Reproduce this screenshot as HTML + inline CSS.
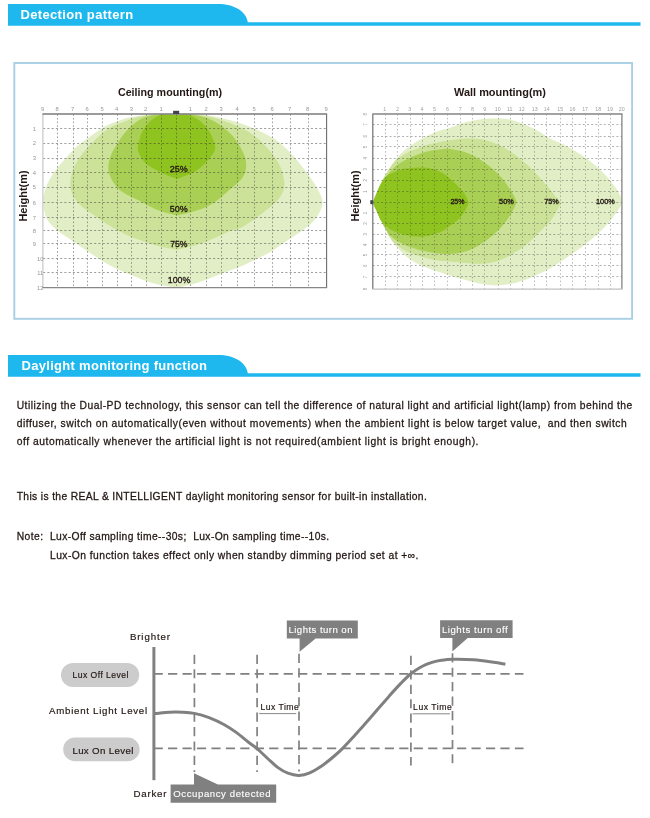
<!DOCTYPE html>
<html lang="en"><head><meta charset="utf-8"><title>Detection pattern</title>
<style>
html,body{margin:0;padding:0;background:#fff}
body{width:650px;height:818px;position:relative;overflow:hidden;font-family:"Liberation Sans",sans-serif;color:#231815}
.hd{position:absolute;left:8.4px;width:633px;height:22px}
.hd svg{position:absolute;left:0;top:0}
.hd h2{position:absolute;margin:0;left:12.6px;top:0;font-size:13px;line-height:22px;font-weight:bold;color:#fff;white-space:nowrap}
.p{position:absolute;left:16.6px;margin:0;font-size:10.3px;line-height:14px;white-space:nowrap;color:#231815;-webkit-text-stroke:0.27px #231815}
</style></head><body>
<svg width="650" height="818" viewBox="0 0 650 818" style="position:absolute;left:0;top:0">
<defs><clipPath id="cl"><rect x="43.1" y="114.2" width="283.5" height="173.8"/></clipPath><clipPath id="cr"><rect x="372.8" y="114.2" width="249.7" height="174.8"/></clipPath></defs>
<rect x="14.3" y="63" width="617.8" height="255.8" fill="#fff" stroke="#A9CFE4" stroke-width="1.9"/>
<g clip-path="url(#cl)">
<path d="M176.5 114.7C172.1 114.7 157.6 114.4 150.0 114.8C142.4 115.2 136.2 116.2 130.8 117.2C125.4 118.2 121.9 119.4 117.5 121.0C113.1 122.6 109.3 124.0 104.5 126.8C99.7 129.6 93.2 134.3 88.5 137.7C83.8 141.0 80.0 143.4 76.2 146.9C72.4 150.4 68.7 154.8 65.4 158.5C62.1 162.2 59.0 165.4 56.2 169.2C53.4 173.0 50.4 177.7 48.5 181.5C46.6 185.3 45.5 188.9 44.6 192.3C43.7 195.7 43.2 198.7 43.2 202.0C43.2 205.3 43.7 209.1 44.6 212.3C45.5 215.6 46.3 218.4 48.5 221.5C50.7 224.6 54.1 227.9 57.7 230.8C61.3 233.8 65.9 236.4 70.0 239.2C74.1 242.0 78.2 244.9 82.3 247.7C86.4 250.5 90.5 253.3 94.6 256.0C98.7 258.7 102.9 261.5 107.0 263.8C111.1 266.1 115.4 268.2 119.2 270.0C123.0 271.8 126.5 273.2 130.0 274.6C133.5 276.1 135.8 277.2 140.0 278.7C144.2 280.2 150.7 282.6 155.0 283.8C159.3 285.0 162.3 285.4 166.0 286.0C169.7 286.6 175.1 287.3 176.9 287.6C178.6 287.3 183.5 286.4 187.0 285.6C190.5 284.8 193.9 283.9 197.7 282.7C201.5 281.5 205.9 279.7 210.0 278.2C214.1 276.7 219.0 274.8 222.3 273.5C225.6 272.2 226.9 271.7 230.0 270.5C233.1 269.3 236.7 268.2 240.8 266.5C244.9 264.8 249.7 262.4 254.6 260.0C259.5 257.6 265.1 255.1 270.0 252.3C274.9 249.5 279.2 246.1 283.8 243.0C288.4 239.9 293.3 236.9 297.7 233.8C302.1 230.7 306.7 227.7 310.0 224.6C313.3 221.5 315.8 218.2 317.7 215.4C319.6 212.6 320.7 210.3 321.5 207.7C322.3 205.1 322.9 203.1 322.3 200.0C321.7 196.9 319.8 193.0 317.7 189.2C315.6 185.4 313.1 181.4 310.0 177.0C306.9 172.6 302.8 167.4 299.2 163.0C295.6 158.6 292.4 154.6 288.5 150.8C284.6 147.0 280.6 143.2 276.0 140.0C271.4 136.8 264.3 133.3 260.8 131.5C257.3 129.7 258.0 130.2 255.0 129.0C252.0 127.8 246.8 125.5 242.7 124.0C238.6 122.5 234.5 121.4 230.4 120.3C226.3 119.2 223.1 118.1 218.0 117.2C212.9 116.3 206.9 115.2 200.0 114.8C193.1 114.4 180.4 114.7 176.5 114.7Z" fill="#E2EFC6"/>
<path d="M176.5 114.7C172.9 114.7 161.6 114.4 155.0 114.8C148.4 115.2 142.1 116.1 137.0 117.2C131.9 118.3 128.7 120.0 124.6 121.5C120.5 123.0 116.1 124.5 112.3 126.5C108.5 128.5 105.5 130.7 102.0 133.5C98.5 136.3 94.8 140.1 91.5 143.5C88.2 146.9 84.8 150.6 82.3 153.8C79.8 157.1 77.9 159.9 76.2 163.0C74.5 166.1 73.3 169.0 72.3 172.3C71.3 175.6 70.4 179.7 70.3 183.0C70.2 186.3 70.7 189.6 71.5 192.3C72.3 195.0 73.5 196.8 75.0 199.0C76.5 201.2 78.0 203.1 80.8 205.5C83.5 207.9 87.7 210.8 91.5 213.5C95.3 216.2 99.7 219.3 103.8 222.0C107.9 224.7 111.6 227.1 116.0 229.5C120.4 231.9 126.0 234.8 130.0 236.5C134.0 238.2 135.4 238.4 140.0 240.0C144.6 241.6 152.8 244.5 157.3 245.8C161.8 247.1 163.7 247.3 167.0 248.0C170.3 248.7 175.2 249.5 176.9 249.8C178.6 249.4 183.5 248.5 187.0 247.6C190.5 246.7 193.9 245.9 197.7 244.6C201.5 243.3 205.9 241.7 210.0 240.0C214.1 238.3 219.0 236.1 222.3 234.6C225.6 233.1 226.9 232.2 230.0 231.0C233.1 229.8 237.0 229.5 240.8 227.7C244.6 225.9 248.9 222.8 253.0 220.0C257.1 217.2 261.2 214.1 265.4 210.8C269.6 207.5 274.9 203.6 278.0 200.0C281.1 196.4 282.8 192.5 283.8 189.2C284.8 185.9 284.5 183.6 284.0 180.0C283.5 176.4 282.4 171.5 280.8 167.7C279.2 163.9 276.9 160.3 274.6 157.0C272.3 153.7 269.8 150.8 267.0 147.7C264.2 144.6 260.7 141.1 257.7 138.5C254.7 135.9 252.3 134.1 248.8 132.0C245.3 129.9 240.6 127.6 236.5 125.8C232.4 124.0 228.3 122.4 224.2 121.0C220.1 119.6 216.7 118.2 212.0 117.2C207.3 116.2 201.9 115.2 196.0 114.8C190.1 114.4 179.8 114.7 176.5 114.7Z" fill="#CBE298"/>
<path d="M176.5 114.7C173.8 114.7 164.9 114.5 160.0 114.8C155.1 115.1 150.6 115.5 146.8 116.6C143.0 117.7 140.1 119.4 137.0 121.5C133.9 123.6 130.8 126.5 128.3 129.0C125.8 131.5 124.0 133.9 122.2 136.3C120.4 138.8 119.3 140.8 117.5 143.7C115.7 146.6 113.0 150.3 111.5 153.8C110.0 157.3 108.9 161.3 108.5 164.6C108.1 167.9 108.3 170.7 109.2 173.8C110.1 176.9 111.9 180.2 113.8 183.0C115.7 185.8 118.1 188.6 120.8 190.8C123.5 193.0 127.0 194.6 130.0 196.2C133.0 197.8 134.8 198.4 139.0 200.5C143.2 202.6 150.3 206.9 155.0 209.0C159.7 211.1 163.2 211.9 166.9 213.0C170.6 214.1 175.2 215.1 176.9 215.5C179.2 214.9 186.1 213.5 190.8 212.2C195.5 210.9 200.5 209.5 205.0 207.5C209.5 205.5 213.5 203.1 217.7 200.0C221.9 196.9 226.7 192.0 230.0 189.2C233.3 186.4 235.4 185.3 237.7 183.0C240.0 180.7 242.4 178.0 243.8 175.4C245.2 172.8 245.7 170.5 246.0 167.7C246.3 164.9 246.2 161.6 245.4 158.5C244.7 155.4 242.6 151.4 241.5 149.2C240.4 146.9 240.2 146.9 239.0 145.0C237.8 143.1 236.1 140.0 234.0 137.5C231.9 135.0 229.6 132.6 226.7 130.2C223.8 127.7 220.3 124.9 216.8 122.8C213.3 120.7 209.9 119.1 205.8 117.8C201.7 116.5 196.9 115.3 192.0 114.8C187.1 114.3 179.1 114.7 176.5 114.7Z" fill="#A9D054"/>
<path d="M176.5 114.7C174.0 114.7 165.4 114.1 161.5 114.8C157.6 115.5 155.4 117.3 153.0 119.0C150.6 120.7 148.7 122.9 146.8 125.2C144.9 127.5 143.0 130.1 141.8 132.6C140.6 135.1 140.1 137.6 139.4 140.0C138.7 142.4 137.8 144.7 137.8 147.0C137.8 149.3 137.9 151.1 139.2 153.8C140.5 156.5 142.8 160.4 145.4 163.0C148.0 165.6 151.7 167.4 155.0 169.3C158.3 171.2 161.7 172.9 165.3 174.5C169.0 176.1 175.0 178.2 176.9 178.9C179.2 178.0 187.3 175.3 190.8 173.7C194.3 172.1 195.6 171.2 198.0 169.5C200.4 167.8 202.5 166.1 205.0 163.5C207.5 160.9 211.3 156.6 213.0 153.8C214.7 151.1 215.2 149.3 215.2 147.0C215.2 144.7 214.1 142.4 213.2 140.0C212.3 137.6 211.4 135.1 210.0 132.6C208.6 130.1 206.6 127.5 204.5 125.2C202.4 122.9 199.9 120.7 197.2 119.0C194.4 117.3 191.4 115.5 188.0 114.8C184.6 114.1 178.4 114.7 176.5 114.7Z" fill="#8FC31F"/>
</g>
<g clip-path="url(#cr)">
<path d="M372.8 202.6C373.1 201.8 374.1 199.3 374.8 197.5C375.6 195.7 376.3 193.8 377.3 191.5C378.3 189.2 379.7 186.1 381.0 183.5C382.3 180.9 383.2 179.0 385.0 176.0C386.8 173.0 388.6 169.4 391.5 165.5C394.4 161.6 398.4 156.1 402.3 152.3C406.2 148.6 410.5 145.7 414.6 143.0C418.7 140.3 422.9 138.0 427.0 136.0C431.1 134.0 435.4 132.2 439.2 130.8C443.0 129.4 445.6 129.1 450.0 127.7C454.4 126.3 460.3 123.7 465.4 122.3C470.5 120.9 475.7 119.8 480.8 119.2C485.9 118.6 490.9 118.4 496.0 118.5C501.1 118.6 506.3 118.8 511.5 120.0C516.7 121.2 522.4 123.5 527.0 125.4C531.6 127.3 535.4 129.3 539.2 131.5C543.0 133.7 545.6 136.2 550.0 138.5C554.4 140.8 560.3 142.7 565.4 145.4C570.5 148.1 575.7 151.2 580.8 154.6C585.9 158.0 591.4 162.0 596.0 166.0C600.6 170.0 604.9 174.4 608.5 178.5C612.1 182.6 615.5 187.4 617.7 190.8C619.9 194.2 620.7 197.0 621.5 199.0C622.3 201.0 622.3 202.3 622.5 203.0C621.7 204.3 620.0 207.5 617.7 210.8C615.4 214.1 612.1 218.9 608.5 223.0C604.9 227.1 600.6 231.3 596.0 235.4C591.4 239.5 585.9 243.8 580.8 247.7C575.7 251.5 570.5 255.0 565.4 258.5C560.3 262.0 554.4 265.9 550.0 268.5C545.6 271.1 543.0 272.0 539.2 273.8C535.4 275.6 531.6 277.5 527.0 279.2C522.4 280.9 516.7 282.8 511.5 283.8C506.3 284.8 501.1 285.4 496.0 285.4C490.9 285.4 485.9 284.7 480.8 283.8C475.7 282.9 470.5 281.4 465.4 280.0C460.3 278.6 453.9 276.7 450.0 275.5C446.1 274.3 445.4 274.0 442.3 273.0C439.2 272.0 435.4 270.9 431.5 269.5C427.6 268.1 423.3 266.7 419.2 264.6C415.1 262.5 410.9 260.1 407.0 257.0C403.1 253.9 398.8 249.1 396.0 246.0C393.2 242.9 392.2 241.3 390.5 238.5C388.8 235.7 387.1 232.0 385.5 229.0C383.9 226.0 382.4 223.2 381.0 220.4C379.6 217.6 378.3 214.6 377.3 212.4C376.3 210.2 375.6 208.9 374.8 207.3C374.1 205.7 373.1 203.4 372.8 202.6Z" fill="#E2EFC6"/>
<path d="M372.8 202.6C373.1 201.8 374.1 199.3 374.8 197.5C375.6 195.7 376.3 193.8 377.3 191.5C378.3 189.2 379.6 186.3 381.0 183.5C382.4 180.7 383.2 178.2 385.5 174.5C387.8 170.8 391.3 164.9 394.6 161.5C397.9 158.1 401.3 156.1 405.4 153.8C409.5 151.5 414.3 149.5 419.2 147.7C424.1 145.9 429.5 144.2 434.6 143.0C439.7 141.8 444.9 141.1 450.0 140.3C455.1 139.6 460.3 138.7 465.4 138.5C470.5 138.3 475.7 138.3 480.8 139.2C485.9 140.1 490.9 141.6 496.0 143.8C501.1 146.0 506.3 148.8 511.5 152.3C516.7 155.8 522.4 160.5 527.0 164.6C531.6 168.7 535.4 172.9 539.2 177.0C543.0 181.1 547.2 185.9 550.0 189.2C552.8 192.5 554.1 194.8 556.0 197.0C557.9 199.2 560.6 201.7 561.5 202.6C560.6 204.2 557.9 209.2 556.0 212.3C554.1 215.5 552.3 218.7 550.0 221.5C547.7 224.3 545.6 225.9 542.3 229.2C539.0 232.5 534.1 237.9 530.0 241.5C525.9 245.1 521.8 248.1 517.7 250.8C513.6 253.5 509.5 255.8 505.4 257.7C501.3 259.6 497.1 261.3 493.0 262.3C488.9 263.3 485.4 263.7 480.8 263.8C476.2 263.9 470.5 263.4 465.4 263.0C460.3 262.6 455.1 262.0 450.0 261.5C444.9 261.0 439.7 260.9 434.6 260.0C429.5 259.1 424.1 257.5 419.2 256.0C414.3 254.5 409.5 253.0 405.4 250.8C401.3 248.6 397.3 245.5 394.6 243.0C391.9 240.5 390.5 238.3 389.0 236.0C387.5 233.7 386.8 231.6 385.5 229.0C384.2 226.4 382.4 223.2 381.0 220.4C379.6 217.6 378.3 214.6 377.3 212.4C376.3 210.2 375.6 208.9 374.8 207.3C374.1 205.7 373.1 203.4 372.8 202.6Z" fill="#CBE298"/>
<path d="M372.8 202.6C373.1 201.8 374.1 199.3 374.8 197.5C375.6 195.7 376.3 193.8 377.3 191.5C378.3 189.2 379.4 186.2 381.0 183.5C382.6 180.8 384.2 178.6 387.0 175.4C389.8 172.2 393.6 167.7 397.7 164.6C401.8 161.5 406.6 159.2 411.5 157.0C416.4 154.8 421.9 152.8 427.0 151.5C432.1 150.2 438.5 149.6 442.3 149.2C446.1 148.8 446.1 148.5 450.0 149.0C453.9 149.5 460.3 150.5 465.4 152.3C470.5 154.1 476.2 157.2 480.8 160.0C485.4 162.8 489.4 166.1 493.0 169.2C496.6 172.3 499.5 175.2 502.3 178.5C505.1 181.8 507.9 186.0 510.0 189.2C512.1 192.4 513.7 195.3 514.8 197.5C515.9 199.7 516.5 201.5 516.8 202.3C516.3 203.5 515.2 206.2 513.6 209.2C512.0 212.1 509.6 216.4 507.0 220.0C504.4 223.6 501.0 227.5 497.7 230.8C494.4 234.1 490.9 237.2 487.0 240.0C483.1 242.8 478.7 245.6 474.6 247.7C470.5 249.8 466.4 251.2 462.3 252.3C458.2 253.4 453.3 253.8 450.0 254.0C446.7 254.2 445.6 254.1 442.3 253.8C439.0 253.5 434.6 253.2 430.0 252.3C425.4 251.4 419.5 250.1 414.6 248.5C409.7 246.9 404.9 245.2 400.8 243.0C396.7 240.8 392.6 237.7 390.0 235.4C387.4 233.1 387.0 231.5 385.5 229.0C384.0 226.5 382.4 223.2 381.0 220.4C379.6 217.6 378.3 214.6 377.3 212.4C376.3 210.2 375.6 208.9 374.8 207.3C374.1 205.7 373.1 203.4 372.8 202.6Z" fill="#A9D054"/>
<path d="M372.8 202.6C373.1 201.8 374.1 199.3 374.8 197.5C375.6 195.7 376.3 193.8 377.3 191.5C378.3 189.2 379.7 185.8 381.0 183.5C382.3 181.2 383.5 179.4 385.0 177.8C386.5 176.2 387.1 175.2 390.0 173.8C392.9 172.4 398.2 170.2 402.3 169.2C406.4 168.2 410.5 167.9 414.6 167.7C418.7 167.4 423.4 167.3 427.0 167.7C430.6 168.1 433.2 169.0 436.0 170.0C438.8 171.0 441.5 172.4 443.8 173.8C446.1 175.2 447.7 176.5 450.0 178.5C452.3 180.5 455.3 183.5 457.7 186.0C460.1 188.5 462.6 191.2 464.2 193.3C465.8 195.4 466.4 197.0 467.2 198.5C468.0 200.0 468.6 201.6 468.9 202.2C468.6 202.8 468.2 204.3 467.4 206.0C466.6 207.7 465.8 210.0 464.2 212.3C462.6 214.6 460.1 217.8 457.7 220.0C455.3 222.2 452.1 224.3 450.0 225.8C447.9 227.3 447.4 228.0 445.4 229.2C443.3 230.4 440.8 231.9 437.7 233.0C434.6 234.1 430.6 235.4 427.0 236.0C423.4 236.6 419.9 236.8 416.0 236.6C412.1 236.4 407.9 235.7 403.8 234.6C399.7 233.5 394.5 231.5 391.5 230.0C388.5 228.5 387.8 227.4 386.0 225.8C384.2 224.2 382.4 222.6 381.0 220.4C379.6 218.2 378.3 214.6 377.3 212.4C376.3 210.2 375.6 208.9 374.8 207.3C374.1 205.7 373.1 203.4 372.8 202.6Z" fill="#8FC31F"/>
</g>
<path d="M57.5 114.2V288.0M73.5 114.2V288.0M87.5 114.2V288.0M102.5 114.2V288.0M117.5 114.2V288.0M131.5 114.2V288.0M146.5 114.2V288.0M161.5 114.2V288.0M176.5 114.2V288.0M190.5 114.2V288.0M206.5 114.2V288.0M221.5 114.2V288.0M237.5 114.2V288.0M254.5 114.2V288.0M272.5 114.2V288.0M290.5 114.2V288.0M308.5 114.2V288.0" fill="none" stroke="#333" stroke-opacity="0.5" stroke-width="0.95" stroke-dasharray="1.6 2.1"/>
<path d="M43.1 128.5H326.6M43.1 143.5H326.6M43.1 158.5H326.6M43.1 172.5H326.6M43.1 187.5H326.6M43.1 202.5H326.6M43.1 217.5H326.6M43.1 230.5H326.6M43.1 243.5H326.6M43.1 258.5H326.6M43.1 272.5H326.6" fill="none" stroke="#333" stroke-opacity="0.5" stroke-width="0.95" stroke-dasharray="2.1 2.15"/>
<path d="M385.5 114.2V289.0M397.5 114.2V289.0M410.5 114.2V289.0M422.5 114.2V289.0M434.5 114.2V289.0M447.5 114.2V289.0M460.5 114.2V289.0M472.5 114.2V289.0M484.5 114.2V289.0M498.5 114.2V289.0M510.5 114.2V289.0M522.5 114.2V289.0M534.5 114.2V289.0M546.5 114.2V289.0M560.5 114.2V289.0M572.5 114.2V289.0M585.5 114.2V289.0M598.5 114.2V289.0M610.5 114.2V289.0" fill="none" stroke="#333" stroke-opacity="0.38" stroke-width="0.95" stroke-dasharray="1.4 2.3"/>
<path d="M372.8 124.5H622.0M372.8 136.5H622.0M372.8 146.5H622.0M372.8 158.5H622.0M372.8 169.5H622.0M372.8 180.5H622.0M372.8 191.5H622.0M372.8 202.5H622.0M372.8 212.5H622.0M372.8 223.5H622.0M372.8 234.5H622.0M372.8 244.5H622.0M372.8 254.5H622.0M372.8 265.5H622.0M372.8 276.5H622.0" fill="none" stroke="#333" stroke-opacity="0.42" stroke-width="0.95" stroke-dasharray="1.9 2.3"/>
<path d="M42.9 114.2V288" stroke="#c2c2c2" stroke-width="1.1" fill="none"/>
<path d="M42.4 114H327.1" stroke="#7c7878" stroke-width="1.3" fill="none"/>
<path d="M326.6 114.2V288" stroke="#6c6c6c" stroke-width="1.1" fill="none"/>
<path d="M42.4 287.6H327.1" stroke="#8a8686" stroke-width="1.2" fill="none"/>
<path d="M372.8 114.2V289" stroke="#6e6e6e" stroke-width="1.2" fill="none"/>
<path d="M372.2 114H622.6" stroke="#848484" stroke-width="1.4" fill="none"/>
<path d="M621.9 114.2V289" stroke="#828282" stroke-width="1.3" fill="none"/>
<path d="M372.2 289.2H622.6" stroke="#c0c0c0" stroke-width="1.3" fill="none"/>
<rect x="173.1" y="110.8" width="6.1" height="3.2" fill="#3e434d"/>
<rect x="370.3" y="200.2" width="2.6" height="4" fill="#3e434d"/>
<g font-family="Liberation Sans, sans-serif" font-size="5.8" fill="#969696" text-anchor="middle">
<text x="42.6" y="110.6">9</text>
<text x="57.2" y="110.6">8</text>
<text x="72.6" y="110.6">7</text>
<text x="87.2" y="110.6">6</text>
<text x="102.1" y="110.6">5</text>
<text x="116.7" y="110.6">4</text>
<text x="131.3" y="110.6">3</text>
<text x="145.7" y="110.6">2</text>
<text x="161.0" y="110.6">1</text>
<text x="190.3" y="110.6">1</text>
<text x="206.0" y="110.6">2</text>
<text x="221.0" y="110.6">3</text>
<text x="237.2" y="110.6">4</text>
<text x="254.1" y="110.6">5</text>
<text x="272.1" y="110.6">6</text>
<text x="289.5" y="110.6">7</text>
<text x="307.5" y="110.6">8</text>
<text x="326.1" y="110.6">9</text>
<text x="34.3" y="130.7">1</text>
<text x="34.3" y="145.3">2</text>
<text x="34.3" y="160.4">3</text>
<text x="34.3" y="174.9">4</text>
<text x="34.3" y="189.4">5</text>
<text x="34.3" y="204.5">6</text>
<text x="34.3" y="219.9">7</text>
<text x="34.3" y="232.7">8</text>
<text x="34.3" y="246.0">9</text>
<text x="40.2" y="260.7">10</text>
<text x="40.2" y="274.5">11</text>
<text x="40.2" y="290.2">12</text>
<text x="384.8" y="111.4" font-size="5.3" fill="#a0a0a0">1</text>
<text x="397.4" y="111.4" font-size="5.3" fill="#a0a0a0">2</text>
<text x="409.7" y="111.4" font-size="5.3" fill="#a0a0a0">3</text>
<text x="422.0" y="111.4" font-size="5.3" fill="#a0a0a0">4</text>
<text x="434.6" y="111.4" font-size="5.3" fill="#a0a0a0">5</text>
<text x="447.4" y="111.4" font-size="5.3" fill="#a0a0a0">6</text>
<text x="460.2" y="111.4" font-size="5.3" fill="#a0a0a0">7</text>
<text x="472.5" y="111.4" font-size="5.3" fill="#a0a0a0">8</text>
<text x="484.7" y="111.4" font-size="5.3" fill="#a0a0a0">9</text>
<text x="497.7" y="111.4" font-size="5.3" fill="#a0a0a0">10</text>
<text x="509.7" y="111.4" font-size="5.3" fill="#a0a0a0">11</text>
<text x="521.7" y="111.4" font-size="5.3" fill="#a0a0a0">12</text>
<text x="534.7" y="111.4" font-size="5.3" fill="#a0a0a0">13</text>
<text x="546.7" y="111.4" font-size="5.3" fill="#a0a0a0">14</text>
<text x="560.2" y="111.4" font-size="5.3" fill="#a0a0a0">15</text>
<text x="572.5" y="111.4" font-size="5.3" fill="#a0a0a0">16</text>
<text x="585.1" y="111.4" font-size="5.3" fill="#a0a0a0">17</text>
<text x="598.2" y="111.4" font-size="5.3" fill="#a0a0a0">18</text>
<text x="610.0" y="111.4" font-size="5.3" fill="#a0a0a0">19</text>
<text x="621.7" y="111.4" font-size="5.3" fill="#a0a0a0">20</text>
</g>
<g font-family="Liberation Sans, sans-serif" font-size="4.5" fill="#9a9a9a" text-anchor="middle">
<text transform="translate(366.8 114.2) rotate(-90)">8</text>
<text transform="translate(366.8 124.6) rotate(-90)">7</text>
<text transform="translate(366.8 136.2) rotate(-90)">6</text>
<text transform="translate(366.8 146.9) rotate(-90)">5</text>
<text transform="translate(366.8 158.2) rotate(-90)">4</text>
<text transform="translate(366.8 169.2) rotate(-90)">3</text>
<text transform="translate(366.8 180.3) rotate(-90)">2</text>
<text transform="translate(366.8 191.5) rotate(-90)">1</text>
<text transform="translate(366.8 213.0) rotate(-90)">1</text>
<text transform="translate(366.8 223.4) rotate(-90)">2</text>
<text transform="translate(366.8 234.2) rotate(-90)">3</text>
<text transform="translate(366.8 245.0) rotate(-90)">4</text>
<text transform="translate(366.8 255.0) rotate(-90)">5</text>
<text transform="translate(366.8 265.8) rotate(-90)">6</text>
<text transform="translate(366.8 277.0) rotate(-90)">7</text>
<text transform="translate(366.8 289.0) rotate(-90)">8</text>
</g>
<g font-family="Liberation Sans, sans-serif" font-size="9.5" fill="#231815" stroke="#231815" stroke-width="0.35" text-anchor="middle">
<text x="178.7" y="171.7" font-size="9.5" textLength="18.0" lengthAdjust="spacingAndGlyphs">25%</text>
<text x="178.7" y="211.6" font-size="9.5" textLength="18.0" lengthAdjust="spacingAndGlyphs">50%</text>
<text x="178.9" y="247.2" font-size="9.5" textLength="17.3" lengthAdjust="spacingAndGlyphs">75%</text>
<text x="179.0" y="282.6" font-size="9.5" textLength="22.5" lengthAdjust="spacingAndGlyphs">100%</text>
<text x="457.5" y="204.3" font-size="8" textLength="14.1" lengthAdjust="spacingAndGlyphs">25%</text>
<text x="506.4" y="204.3" font-size="8" textLength="14.7" lengthAdjust="spacingAndGlyphs">50%</text>
<text x="551.4" y="204.3" font-size="8" textLength="14.5" lengthAdjust="spacingAndGlyphs">75%</text>
<text x="605.4" y="204.3" font-size="8" textLength="18.7" lengthAdjust="spacingAndGlyphs">100%</text>
</g>
<g font-family="Liberation Sans, sans-serif" font-size="10.6" font-weight="bold" fill="#231815">
<text x="117.9" y="95.9" textLength="104.2" lengthAdjust="spacingAndGlyphs">Ceiling mounting(m)</text>
<text x="454" y="95.9" textLength="92" lengthAdjust="spacingAndGlyphs">Wall mounting(m)</text>
<text transform="translate(27.1 221.6) rotate(-90)" textLength="51.2" lengthAdjust="spacingAndGlyphs">Height(m)</text>
<text transform="translate(358.8 221.6) rotate(-90)" textLength="51.2" lengthAdjust="spacingAndGlyphs">Height(m)</text>
</g>
<path d="M153.9 647V780.2" stroke="#808080" stroke-width="3" fill="none"/>
<rect x="61" y="663" width="78.2" height="24" rx="12" fill="#cccccc"/>
<rect x="63.2" y="737.6" width="76.4" height="23.6" rx="11.8" fill="#cccccc"/>
<g stroke="#808080" stroke-width="1.7" fill="none" stroke-dasharray="9.2 5.25">
<path d="M153.6 673.8H523.5"/>
<path d="M153.6 748.3H523.5"/>
<path d="M194.4 654.7V772"/>
<path d="M257.1 654.7V772"/>
<path d="M299 653.8V771.5"/>
<path d="M410.9 655.8V765.6"/>
<path d="M452.5 653.2V763.2"/>
</g>
<path d="M286.8 620.5H357.8V638.6H315.6L299.6 651.8V638.6H286.8Z" fill="#808080"/>
<path d="M440.1 620.3H512.6V637.9H467.7L452.4 651.4V637.9H440.1Z" fill="#808080"/>
<path d="M170.6 784.6H194V773.2L217.9 784.6H276.2V802.8H170.6Z" fill="#808080"/>
<path d="M259.2 713.6H296.3M412.6 713.8H450" stroke="#888" stroke-width="1" fill="none"/>
<path d="M154.9 713.6C157.4 713.4 165.2 712.4 169.7 712.2C174.2 712.0 177.9 712.0 182.0 712.2C186.1 712.4 189.8 712.5 194.3 713.4C198.8 714.3 204.2 715.8 209.1 717.6C214.0 719.5 219.4 722.0 223.9 724.5C228.4 727.0 232.1 729.4 236.2 732.4C240.3 735.4 245.0 739.5 248.5 742.2C252.0 744.9 253.8 745.8 257.1 748.6C260.4 751.4 264.7 755.8 268.2 759.0C271.7 762.2 274.7 765.2 278.0 767.6C281.3 770.0 284.4 771.9 287.9 773.2C291.4 774.5 295.4 775.5 299.0 775.4C302.6 775.3 305.9 774.5 309.7 772.9C313.5 771.3 317.9 768.6 322.0 765.8C326.1 763.0 330.8 759.0 334.3 756.0C337.8 753.0 339.6 751.4 342.9 748.1C346.2 744.8 350.5 740.1 354.0 736.3C357.5 732.5 360.1 729.4 363.8 725.2C367.5 721.0 372.1 715.7 376.2 711.0C380.3 706.3 384.4 701.5 388.5 696.9C392.6 692.3 397.1 687.2 400.8 683.4C404.5 679.6 407.3 676.7 410.6 674.0C413.9 671.3 416.8 669.2 420.5 667.2C424.2 665.2 429.2 663.4 432.8 662.2C436.4 661.0 438.7 660.7 442.0 660.2C445.3 659.7 447.2 659.4 452.5 659.3C457.8 659.2 467.0 659.3 473.9 659.8C480.8 660.3 488.4 661.5 493.6 662.2C498.9 662.9 503.4 663.9 505.4 664.2" stroke="#808080" stroke-width="3" fill="none"/>
<g font-family="Liberation Sans, sans-serif" fill="#231815" stroke="#231815" stroke-width="0.18">
<text x="129.9" y="640.3" font-size="9.7" textLength="40.1" lengthAdjust="spacing">Brighter</text>
<text x="49.1" y="714.3" font-size="9.7" textLength="98" lengthAdjust="spacing">Ambient Light Level</text>
<text x="133.6" y="797.4" font-size="9.7" textLength="32.8" lengthAdjust="spacing">Darker</text>
<text x="72.6" y="678.3" font-size="8.6" textLength="55.8" lengthAdjust="spacing">Lux Off Level</text>
<text x="72.4" y="754.4" font-size="9.7" textLength="60.9" lengthAdjust="spacing">Lux On Level</text>
<text x="260.4" y="709.9" font-size="8.6" textLength="38.4" lengthAdjust="spacing">Lux Time</text>
<text x="413.1" y="709.7" font-size="8.6" textLength="38.6" lengthAdjust="spacing">Lux Time</text>
</g>
<g font-family="Liberation Sans, sans-serif" fill="#fff" stroke="#fff" stroke-width="0.12">
<text x="288.5" y="632.7" font-size="9.6" textLength="64" lengthAdjust="spacing">Lights turn on</text>
<text x="441.9" y="632.7" font-size="9.6" textLength="65.7" lengthAdjust="spacing">Lights turn off</text>
<text x="173.3" y="797.3" font-size="9.6" textLength="97.3" lengthAdjust="spacing">Occupancy detected</text>
</g>
</svg>
<div class="hd" style="top:3.7px"><svg width="633" height="22" viewBox="0 0 633 22"><path d="M0 0H210C226 0 238.5 7.5 239.8 18.3H632.5V21.8H0Z" fill="#1EB8EE"/></svg><h2 style="top:0.3px;left:12px;letter-spacing:0.362px">Detection pattern</h2></div>
<div class="hd" style="top:354.7px"><svg width="633" height="22" viewBox="0 0 633 22"><path d="M0 0H210C226 0 238.5 7.5 239.8 18.3H632.5V21.8H0Z" fill="#1EB8EE"/></svg><h2 style="top:0.2px;left:13.2px;letter-spacing:0.287px">Daylight monitoring function</h2></div>
<p class="p" id="l0" style="left:16.7px;top:399.3px;letter-spacing:0.484px">Utilizing the Dual-PD technology, this sensor can tell the difference of natural light and artificial light(lamp) from behind the</p>
<p class="p" id="l1" style="left:16.7px;top:417.0px;letter-spacing:0.52px">diffuser, switch on automatically(even without movements) when the ambient light is below target value,&nbsp; and then switch</p>
<p class="p" id="l2" style="left:16.7px;top:434.8px;letter-spacing:0.537px">off automatically whenever the artificial light is not required(ambient light is bright enough).</p>
<p class="p" id="l3" style="left:16.7px;top:490.0px;letter-spacing:0.356px">This is the REAL &amp; INTELLIGENT daylight monitoring sensor for built-in installation.</p>
<p class="p" id="l4" style="left:16.7px;top:530.4px;letter-spacing:0.444px">Note:</p>
<p class="p" id="l5" style="left:50.0px;top:530.4px;letter-spacing:0.384px">Lux-Off sampling time--30s;&nbsp; Lux-On sampling time--10s.</p>
<p class="p" id="l6" style="left:50.0px;top:549.4px;letter-spacing:0.448px">Lux-On function takes effect only when standby dimming period set at +∞.</p>
</body></html>
